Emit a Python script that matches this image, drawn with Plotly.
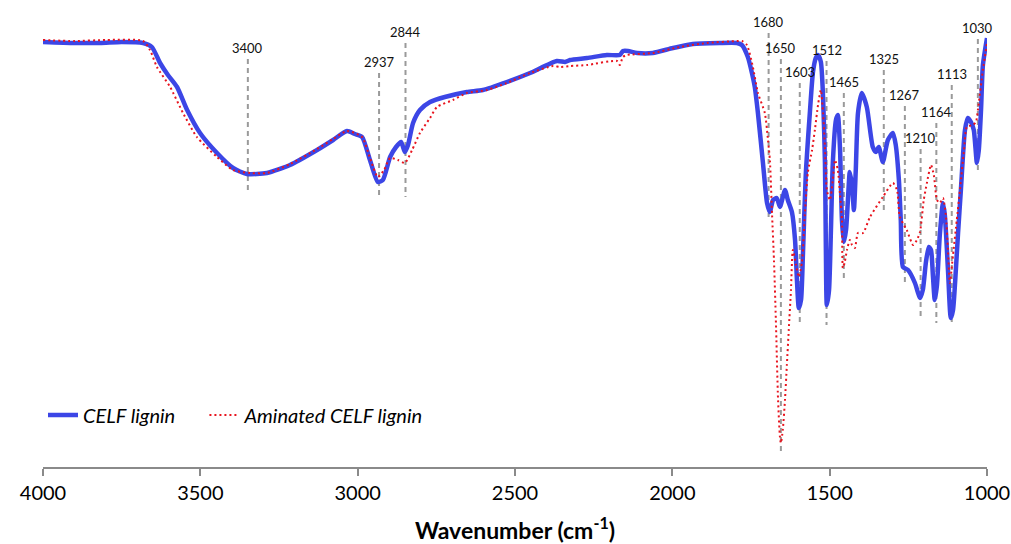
import plotly.graph_objects as go

# ---------------- data (wavenumber in cm-1, transmittance in arbitrary units) -------------
celf_wn = [4000, 3900, 3819, 3750, 3682, 3654, 3628, 3603, 3574, 3542, 3501, 3447, 3396, 3352,
           3288, 3215, 3129, 3078, 3034, 3009, 2986, 2961, 2936, 2920, 2897, 2878, 2862, 2850,
           2840, 2824, 2802, 2770, 2723, 2653, 2602, 2526, 2452, 2367, 2341, 2325, 2271, 2208,
           2167, 2157, 2141, 2112, 2062, 1998, 1935, 1849, 1795, 1779, 1760, 1747, 1738, 1728,
           1712, 1699, 1690, 1680, 1668, 1658, 1642, 1633, 1620, 1610, 1604, 1598, 1591, 1585,
           1576, 1563, 1553, 1544, 1537, 1528, 1521, 1515, 1512, 1509, 1502, 1496, 1490, 1480,
           1474, 1467, 1461, 1455, 1448, 1442, 1436, 1429, 1423, 1417, 1410, 1398, 1382, 1363,
           1353, 1344, 1331, 1315, 1299, 1290, 1280, 1274, 1267, 1251, 1229, 1220, 1213, 1204,
           1194, 1185, 1178, 1172, 1166, 1159, 1150, 1140, 1134, 1124, 1115, 1108, 1099, 1092,
           1083, 1070, 1061, 1051, 1042, 1032, 1026, 1019, 1013, 1000]
celf_t = [425, 424, 424, 425, 424, 420, 404, 392, 380, 357, 334, 314, 299, 293,
          294, 302, 317, 327, 336, 333, 330, 307, 285, 287, 310, 320, 325, 315,
          322, 344, 357, 365, 370, 375, 377, 385, 394, 406, 405, 407, 409, 412,
          412, 416, 416, 414, 414, 419, 423, 424, 424, 422, 410, 394, 380, 354,
          304, 264, 255, 267, 269, 260, 277, 267, 255, 227, 187, 159, 167, 212,
          292, 354, 395, 409, 412, 405, 370, 304, 217, 162, 177, 237, 304, 347,
          352, 317, 247, 225, 237, 267, 295, 282, 257, 297, 354, 374, 360, 320,
          315, 320, 305, 327, 334, 322, 287, 247, 200, 197, 184, 175, 169, 177,
          205, 220, 217, 192, 167, 182, 232, 264, 252, 197, 149, 157, 197, 234,
          277, 337, 349, 345, 337, 304, 317, 357, 402, 429]

amin_wn = [4000, 3900, 3800, 3682, 3660, 3638, 3596, 3555, 3511, 3447, 3396, 3342, 3288, 3215,
           3129, 3078, 3034, 2986, 2961, 2936, 2916, 2897, 2872, 2850, 2827, 2802, 2770, 2748,
           2697, 2653, 2589, 2526, 2452, 2379, 2357, 2325, 2271, 2176, 2167, 2157, 2144, 2062,
           1976, 1890, 1795, 1779, 1763, 1744, 1728, 1706, 1696, 1690, 1683, 1677, 1671, 1664,
           1658, 1655, 1649, 1642, 1636, 1630, 1623, 1617, 1607, 1598, 1588, 1579, 1569, 1556,
           1547, 1537, 1528, 1521, 1515, 1509, 1499, 1490, 1483, 1474, 1467, 1461, 1458, 1452,
           1445, 1436, 1429, 1420, 1410, 1394, 1372, 1331, 1299, 1286, 1277, 1255, 1235, 1223,
           1213, 1201, 1191, 1178, 1169, 1159, 1150, 1140, 1131, 1124, 1118, 1108, 1096, 1086,
           1073, 1064, 1045, 1035, 1029, 1013, 1000]
amin_t = [427, 426, 427, 426, 417, 400, 380, 354, 330, 310, 297, 294, 294, 303,
          318, 328, 336, 330, 309, 290, 297, 309, 307, 304, 317, 334, 349, 360,
          367, 374, 377, 384, 394, 401, 400, 401, 402, 406, 402, 410, 412, 414,
          420, 424, 426, 426, 422, 400, 374, 354, 327, 307, 252, 207, 147, 67,
          30, 24, 37, 67, 102, 137, 177, 217, 202, 190, 205, 252, 295, 317,
          337, 362, 377, 354, 320, 277, 267, 287, 307, 297, 272, 247, 199, 205,
          217, 227, 222, 219, 234, 234, 250, 270, 284, 277, 250, 237, 222, 227,
          235, 267, 284, 302, 292, 267, 264, 269, 252, 217, 184, 212, 247, 277,
          317, 340, 342, 345, 357, 397, 424]

peak_labels = ["3400", "2937", "2844", "1680", "1650", "1603", "1512", "1465",
               "1325", "1267", "1210", "1164", "1113", "1030"]
peak_pos = [3349, 2932, 2848, 1694, 1655, 1595, 1510, 1455, 1328, 1261, 1211, 1161, 1112, 1029]
peak_top = [408, 394, 424, 434, 408, 384, 406, 374, 397, 361, 318, 344, 382, 428]
peak_bottom = [274, 270, 270, 250, 15, 145, 142, 189, 255, 184, 149, 144, 145, 294]

x_ticks = [4000, 3500, 3000, 2500, 2000, 1500, 1000]

FONT = "Lato, 'Open Sans', sans-serif"

fig = go.Figure()

# peak marker lines (drawn first so spectra sit on top)
vx, vy = [], []
for p, t, b in zip(peak_pos, peak_top, peak_bottom):
    vx += [p, p, None]
    vy += [t, b, None]
fig.add_trace(go.Scatter(x=vx, y=vy, mode="lines", showlegend=False, hoverinfo="skip",
                         line=dict(color="#9a9a9a", width=2, dash="5px,4px")))

fig.add_trace(go.Scatter(x=celf_wn, y=celf_t, mode="lines", name="<i>CELF lignin</i>",
                         legend="legend",
                         line=dict(color="#3c46e6", width=4.5, shape="spline", smoothing=0.6)))
fig.add_trace(go.Scatter(x=amin_wn, y=amin_t, mode="lines", name="<i>Aminated CELF lignin</i>",
                         legend="legend2",
                         line=dict(color="#e8141e", width=2, dash="2px,3px",
                                   shape="spline", smoothing=0.6)))

for lab, p, t in zip(peak_labels, peak_pos, peak_top):
    fig.add_annotation(x=p, y=t, text=lab, showarrow=False, yanchor="bottom", yshift=1,
                       font=dict(family=FONT, size=13, color="#111111"))

leg_common = dict(orientation="h", xanchor="left", y=0.114, yanchor="middle",
                  font=dict(family=FONT, size=20, color="black"),
                  bgcolor="rgba(0,0,0,0)", itemwidth=30)

fig.update_layout(
    width=1011, height=544,
    margin=dict(l=43, r=24, t=10, b=77, autoexpand=False),
    paper_bgcolor="white", plot_bgcolor="white",
    font=dict(family=FONT, color="black"),
    showlegend=True,
    legend=dict(x=0.0, **leg_common),
    legend2=dict(x=0.171, **leg_common),
    xaxis=dict(range=[4000, 1000], tickvals=x_ticks, ticktext=[str(v) for v in x_ticks],
               automargin=False,
               showgrid=False, zeroline=False, showline=True, linecolor="#8a8a8a",
               linewidth=2, ticks="outside", ticklen=7, tickwidth=2, tickcolor="#8a8a8a",
               tickfont=dict(family=FONT, size=20, color="black"),
               title=dict(text="<b>Wavenumber (cm<sup>-1</sup>)</b>",
                          font=dict(family=FONT, size=23, color="black"), standoff=21)),
    yaxis=dict(range=[0, 457], visible=False, showgrid=False, zeroline=False, automargin=False),
)

fig.write_html("out.html")
